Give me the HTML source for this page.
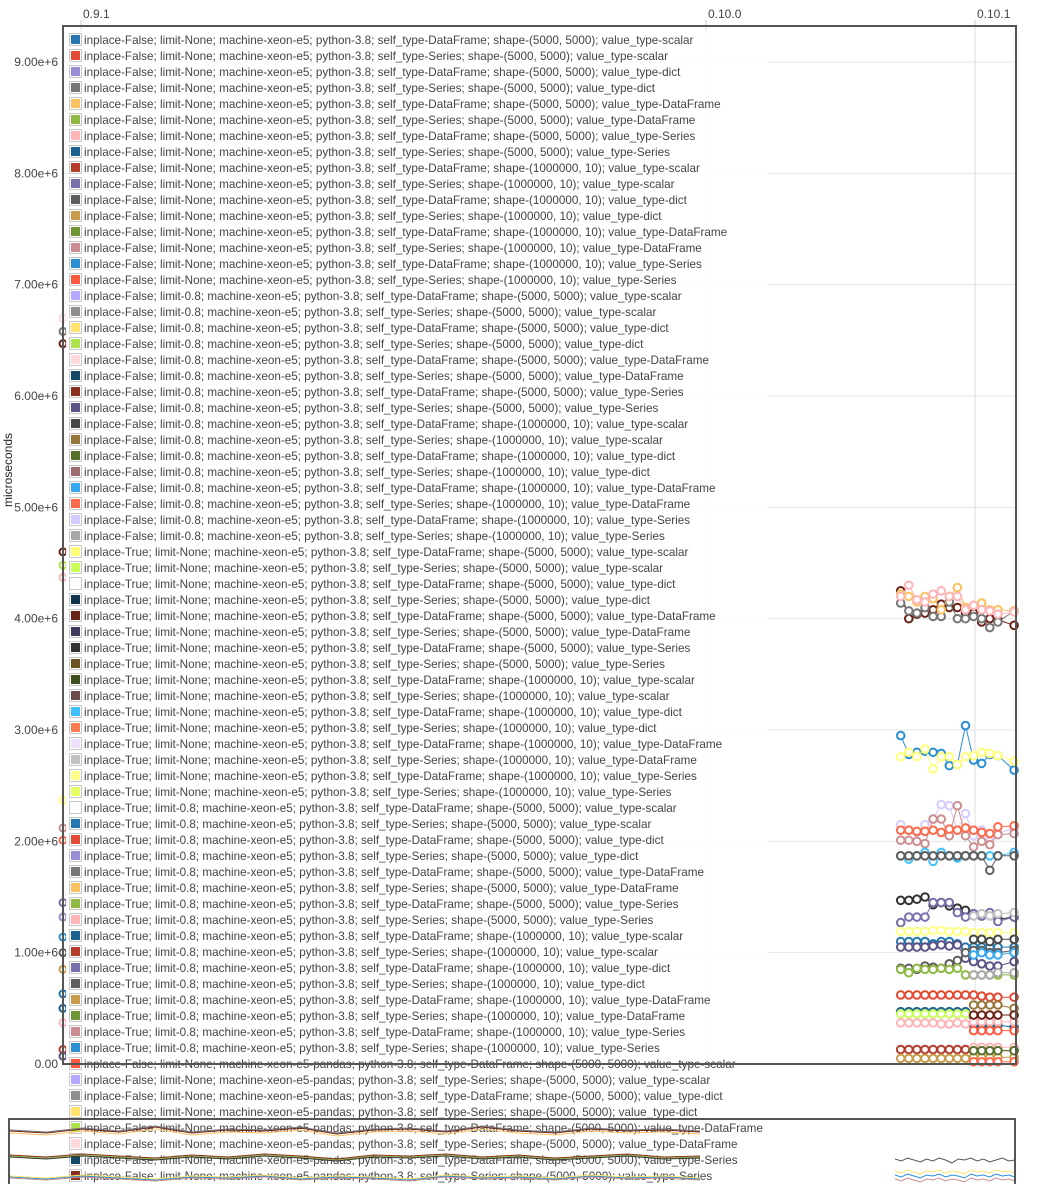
<!DOCTYPE html>
<html><head><meta charset="utf-8">
<style>
html,body{margin:0;padding:0;background:#fff;}
body{width:1042px;height:1184px;overflow:hidden;position:relative;font-family:"Liberation Sans",sans-serif;}
svg{position:absolute;left:0;top:0;}
</style></head>
<body>
<svg id="chart" width="1042" height="1184" xmlns="http://www.w3.org/2000/svg"></svg>
<script>
// ---- data (values in millions of microseconds) ----
const commitIdx = [0,1,2,3,4,5,6,7,8,9,10,11,12,14];
const yTicks = [0,1,2,3,4,5,6,7,8,9];
const yTickLabels = ["0.00","1.00e+6","2.00e+6","3.00e+6","4.00e+6","5.00e+6","6.00e+6","7.00e+6","8.00e+6","9.00e+6"];
const versionTicks = [{label:"0.9.1",x:81},{label:"0.10.0",x:706},{label:"0.10.1",x:975}];
const N = null;
const sBrown = [4.25,4.0,4.04,4.05,4.08,4.13,4.1,4.1,4.05,4.05,3.97,4.0,3.99,3.94];
const sGray = [4.14,4.07,4.05,4.1,4.02,4.02,4.15,4.0,4.0,4.02,4.0,3.92,3.97,4.07];
const sOrange = [4.22,4.2,4.15,4.2,4.18,4.08,4.2,4.28,4.1,4.12,4.14,4.08,4.08,4.07];
const sPink = [4.2,4.3,4.17,4.15,4.22,4.25,4.2,4.2,4.08,4.12,4.08,4.07,4.04,4.06];
const sBlue15 = [2.95,2.78,2.8,2.81,2.8,2.79,2.68,2.69,3.04,2.73,2.7,2.78,2.77,2.64];
const sYellow33 = [2.76,2.8,2.76,2.83,2.65,2.76,2.76,2.69,2.76,2.77,2.8,2.79,2.77,2.72];
const sLav = [2.15,2.1,2.08,2.15,2.2,2.33,2.32,2.1,2.25,2.05,2.1,2.0,2.07,2.12];
const sRose = [2.01,2.01,2.0,1.98,2.2,2.2,2.05,2.32,2.05,1.95,2.0,1.97,2.06,2.07];
const sOrRed = [2.1,2.1,2.09,2.09,2.1,2.08,2.11,2.1,2.12,2.1,2.08,2.07,2.13,2.14];
const sCyan = [1.87,1.84,1.87,1.9,1.82,1.9,1.87,1.85,1.87,1.87,1.87,1.87,1.87,1.9];
const sDGray = [1.87,1.87,1.87,1.87,1.87,1.87,1.87,1.87,1.87,1.87,1.87,1.74,1.87,1.87];
const sBlack = [1.47,1.47,1.48,1.5,1.43,1.45,1.42,1.4,1.38,1.35,1.33,1.35,1.3,1.32];
const sPurple = [1.27,1.32,1.32,1.32,1.45,1.45,1.45,1.36,1.32,1.35,1.33,1.36,1.28,1.32];
const sYellow47 = [1.19,1.19,1.19,1.19,1.2,1.2,1.19,1.19,1.19,1.18,1.18,1.18,1.18,1.18];
const sBlue1 = [1.1,1.1,1.1,1.1,1.08,1.1,1.1,1.08,1.05,1.05,1.05,1.05,1.05,1.05];
const sPurple38 = [1.05,1.05,1.05,1.05,1.06,1.07,1.06,1.07,0.95,0.92,0.9,0.88,0.88,0.92];
const sGray11 = [0.86,0.86,0.85,0.88,0.87,0.86,0.9,0.93,1.0,1.02,1.02,1.0,1.0,1.02];
const sGreen = [0.85,0.82,0.86,0.85,0.85,0.86,0.85,0.86,0.8,0.8,0.8,0.8,0.8,0.8];
const sRed = [0.62,0.62,0.62,0.62,0.62,0.62,0.62,0.62,0.62,0.62,0.61,0.6,0.6,0.6];
const sBlue8 = [0.47,0.47,0.47,0.47,0.47,0.47,0.47,0.47,0.47,0.35,0.35,0.35,0.35,0.33];
const sLime = [0.45,0.45,0.45,0.45,0.45,0.45,0.45,0.45,0.45,0.44,0.44,0.44,0.44,0.44];
const sPink2 = [0.37,0.37,0.37,0.37,0.37,0.36,0.36,0.37,0.36,0.38,0.38,0.38,0.38,0.38];
const sBrown9 = [0.13,0.13,0.13,0.13,0.13,0.13,0.13,0.13,0.13,0.12,0.12,0.12,0.12,0.12];
const sTan = [0.05,0.05,0.05,0.05,0.05,0.05,0.05,0.05,0.05,0.06,0.06,0.06,0.06,0.06];
const pTan = [N,N,N,N,N,N,N,N,N,0.53,0.53,0.53,0.53,0.5];
const pBrown = [N,N,N,N,N,N,N,N,N,0.44,0.44,0.44,0.44,0.44];
const pOrange = [N,N,N,N,N,N,N,N,N,0.3,0.3,0.3,0.3,0.3];
const pPink = [N,N,N,N,N,N,N,N,N,0.15,0.15,0.15,0.15,0.15];
const pGreen = [N,N,N,N,N,N,N,N,N,0.12,0.12,0.12,0.12,0.12];
const pOrRed = [N,N,N,N,N,N,N,N,N,0.02,0.02,0.02,0.02,0.02];
const pDark = [N,N,N,N,N,N,N,N,N,1.12,1.12,1.1,1.12,1.12];
const pSilver = [N,N,N,N,N,N,N,N,N,1.33,1.35,1.33,1.35,1.36];
const pBlue = [N,N,N,N,N,N,N,N,N,0.98,1.0,0.98,0.98,1.0];
const pGray = [N,N,N,N,N,N,N,N,N,0.8,0.8,0.8,0.82,0.82];
const earlyValues = [6.7,6.58,6.47,4.6,4.48,4.37,2.37,2.12,2.01,1.45,1.32,1.14,1.0,0.85,0.63,0.5,0.37,0.13,0.07];
const earlyColors = ["#ffd9dc","#777777","#6a2218","#6a2218","#aee34c","#ffb5b8","#ffff7a","#cc8e90","#ff6a4a","#7a6fab","#988ed5","#2a8fd4","#5e5e5e","#c99c4a","#2477b0","#1a6390","#ffb5b8","#b53c2a","#5c5484"];
const series = [
 ["#6a2218",sBrown],["#777777",sGray],["#fbc15e",sOrange],["#ffb5b8",sPink],
 ["#2a8fd4",sBlue15],["#ffff7a",sYellow33],["#d7caff",sLav],["#cc8e90",sRose],["#ff6a4a",sOrRed],
 ["#3cc2ff",sCyan],["#5e5e5e",sDGray],["#333333",sBlack],["#7a6fab",sPurple],["#ffff8a",sYellow47],
 ["#2477b0",sBlue1],["#5c5484",sPurple38],["#5e5e5e",sGray11],["#8eba42",sGreen],["#e24a33",sRed],
 ["#1a6390",sBlue8],["#c8ff58",sLime],["#ffb5b8",sPink2],["#b53c2a",sBrown9],["#c99c4a",sTan],
 ["#98763a",pTan],["#6a2218",pBrown],["#ff5a3d",pOrange],["#ffb5b8",pPink],["#557228",pGreen],["#ff6a4a",pOrRed],
 ["#474747",pDark],["#c0c0c0",pSilver],["#33aaf2",pBlue],["#a8a8a8",pGray]
];
const legendColors = ["#2477b0","#e24a33","#988ed5","#777777","#fbc15e","#8eba42","#ffb5b8","#1a6390","#b53c2a","#7a6fab","#5e5e5e","#c99c4a","#6f9535","#cc8e90","#2a8fd4","#ff5a3d","#b9a8ff","#8e8e8e","#ffe36a","#aee34c","#ffd9dc","#16486a","#8b2e20","#5c5484","#474747","#98763a","#557228","#9e6c6e","#33aaf2","#ff6a4a","#d7caff","#a8a8a8","#ffff7a","#c8ff58","#ffffff","#0f3450","#6a2218","#3f3a5e","#333333","#6e5424","#3c4f1c","#6e4c4e","#3cc2ff","#ff7a52","#f0e0ff","#c0c0c0","#ffff8a","#e6ff64","#ffffff"];
const ovTop = [1131,1133,1129,1132,1127,1133,1130,1131,1128,1134,1130,1129,1132,1127,1131,1133,1129,1131,1130,1132];
const ovMid = [1156,1158,1155,1157,1159,1156,1158,1155,1157,1160,1156,1157,1155,1158,1156,1159,1157,1155,1158,1157];
const ovLow = [1177,1179,1176,1178,1180,1177,1178,1176,1179,1177,1178,1180,1176,1178,1177,1179,1176,1178,1177,1179];
// ---- scales ----
const PL=63,PT=26,PR=1016,PB=1064;
const y = v => PB - v*(PB-62)/9;
const x = i => 900.7 + i*8.1;
const NS="http://www.w3.org/2000/svg";
const svg=document.getElementById('chart');
function mk(tag,attrs,parent){const e=document.createElementNS(NS,tag);for(const k in attrs)e.setAttribute(k,attrs[k]);(parent||svg).appendChild(e);return e;}
// grid
const grid=mk('g',{});


yTicks.forEach((t,i)=>{
  mk('line',{x1:PL,x2:PR,y1:y(t),y2:y(t),stroke:'#e6e6e6','stroke-width':1},grid);
  const tx=mk('text',{x:58,y:y(t)+4,'text-anchor':'end','font-size':12,fill:'#444'});
  tx.textContent=yTickLabels[i];
  
  
});
versionTicks.forEach(v=>{
  mk('line',{x1:v.x,x2:v.x,y1:PT,y2:PB,stroke:'#dddddd','stroke-width':1},grid);
  mk('line',{x1:v.x,x2:v.x,y1:PT-6,y2:PT,stroke:'#ccc','stroke-width':1},grid);
  const tx=mk('text',{x:v.x+2,y:18,'font-size':12,fill:'#444'});
  tx.textContent=v.label;
  
  
});
const yt=mk('text',{x:12,y:470,'font-size':12,fill:'#222','text-anchor':'middle',transform:'rotate(-90 12 470)'});
yt.textContent='microseconds';


// series
series.forEach(([c,vals])=>{
  const g=mk('g',{});
  
  
  let pts=[];
  vals.forEach((v,i)=>{if(v!==null)pts.push(x(commitIdx[i]).toFixed(1)+','+y(v).toFixed(1));});
  mk('polyline',{points:pts.join(' '),fill:'none',stroke:c,'stroke-width':1},g);
  vals.forEach((v,i)=>{if(v===null)return;
    const m=mk('circle',{cx:x(commitIdx[i]),cy:y(v),r:3.8,fill:'#fff',stroke:c,'stroke-width':2},g);
    
    
  });
});
earlyValues.forEach((v,i)=>{
  const m=mk('circle',{cx:PL,cy:y(v),r:3.5,fill:'#fff',stroke:earlyColors[i],'stroke-width':2});
  
  
});
// legend
const lg=mk('g',{});


mk('rect',{x:66,y:30,width:702,height:1160,fill:'#fff','fill-opacity':0.88},lg);
const groups=[["inplace-False","limit-None","machine-xeon-e5"],["inplace-False","limit-0.8","machine-xeon-e5"],["inplace-True","limit-None","machine-xeon-e5"],["inplace-True","limit-0.8","machine-xeon-e5"],["inplace-False","limit-None","machine-xeon-e5-pandas"]];
const shapes=["shape-(5000, 5000)","shape-(1000000, 10)"];
const vtypes=["value_type-scalar","value_type-dict","value_type-DataFrame","value_type-Series"];
const stypes=["self_type-DataFrame","self_type-Series"];
let n=0;
groups.forEach(gp=>{shapes.forEach(sh=>{vtypes.forEach(vt=>{stypes.forEach(st=>{
  if(n>=72)return;
  const yy=40+n*16;
  const col=legendColors[n<49?n:n-49];
  const e=mk('g',{},lg);
  
  
  mk('rect',{x:69.5,y:yy-6.5,width:12,height:12,fill:'#fff',stroke:'#c8c8c8','stroke-width':1},e);
  mk('rect',{x:71,y:yy-5,width:9,height:9,fill:col},e);
  const t=mk('text',{x:84,y:yy+4,'font-size':11.7,fill:'#444'},e);
  t.textContent=gp.join('; ')+'; python-3.8; '+st+'; '+sh+'; '+vt;
  n++;
});});});});
// plot frame
const fr=mk('rect',{x:PL,y:PT,width:PR-PL,height:PB-PT,fill:'none',stroke:'#555','stroke-width':2});


// overview panel
const ov=mk('g',{});


function ovLine(arr,c,off,x0,x1){const step=(x1-x0)/(arr.length-1);mk('polyline',{points:arr.map((v,i)=>(x0+i*step).toFixed(1)+','+(v+off)).join(' '),fill:'none',stroke:c,'stroke-width':1},ov);}
ovLine(ovTop,'#6a2218',0,10,700);ovLine(ovTop,'#fbc15e',2,10,700);ovLine(ovTop,'#777',-1,10,700);
ovLine(ovMid,'#8eba42',0,10,700);ovLine(ovMid,'#333',1,10,700);ovLine(ovMid,'#8b2e20',-1,10,700);
ovLine(ovLow,'#2a8fd4',0,10,700);ovLine(ovLow,'#cc8e90',1,10,700);ovLine(ovLow,'#ffe36a',-1,10,700);
ovLine(ovMid,'#555',3,895,1015);ovLine(ovLow,'#ffe36a',-6,895,1015);ovLine(ovLow,'#2a8fd4',-2,895,1015);ovLine(ovLow,'#cc8e90',2,895,1015);
mk('rect',{x:9,y:1119,width:1006,height:80,fill:'none',stroke:'#555','stroke-width':2},ov);
svg.appendChild(lg);
svg.appendChild(fr);
svg.appendChild(ov);
</script>
</body></html>
